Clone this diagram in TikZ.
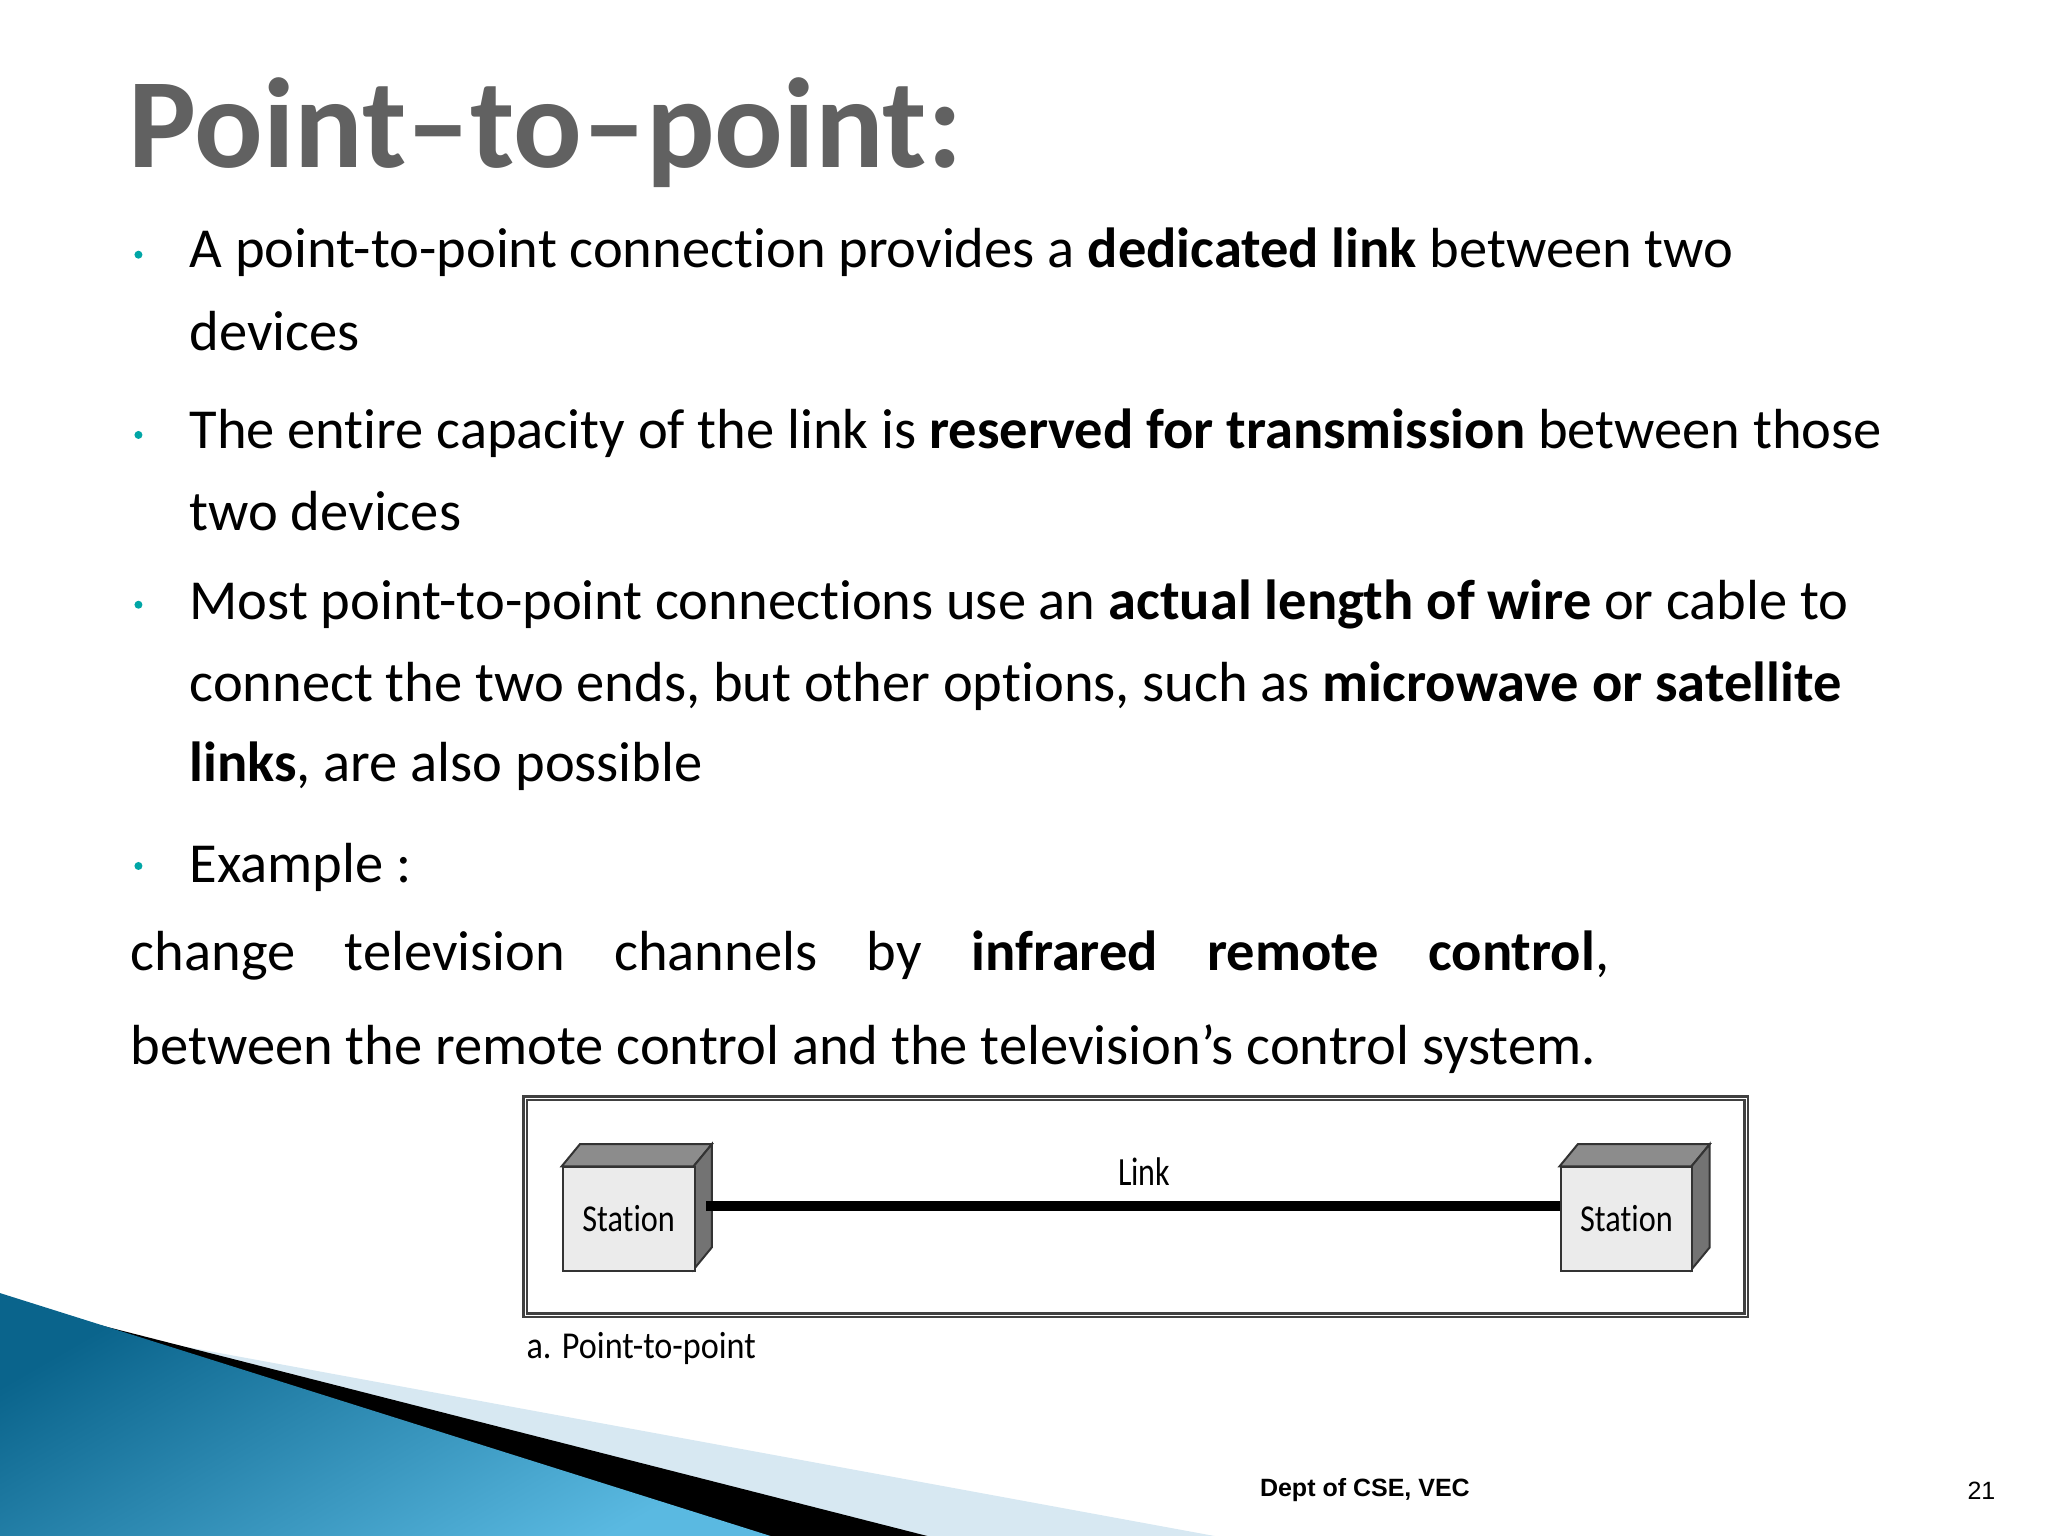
\documentclass[tikz,border=0pt]{standalone}
\usepackage{fontspec}
\setmainfont{Carlito}[Ligatures=NoCommon]
\newfontfamily\arial{Liberation Sans}
\definecolor{decteal}{RGB}{10,100,140}
\definecolor{declight}{RGB}{90,185,225}
\definecolor{decpale}{RGB}{215,232,242}
\begin{document}
\begin{tikzpicture}[x=1.306pt,y=-1.306pt,
  body/.style={anchor=base west,inner sep=0pt,font=\fontsize{56.5}{56.5}\selectfont},
  bul/.style={circle,fill=teal!70!cyan,inner sep=0pt,minimum size=8pt},
  front/.style={draw=black!80,line width=2pt,fill=black!8},
  topf/.style={draw=black!80,line width=2pt,fill=black!45},
  sidef/.style={draw=black!80,line width=2pt,fill=black!55}]
\useasboundingbox (0,0) rectangle (1568,1176);
% decoration
\fill[decpale] (0,1005) -- (930,1176) -- (0,1176) -- cycle;
\fill[black] (0,995) -- (710,1176) -- (0,1176) -- cycle;
\shade[top color=decteal, bottom color=declight, shading angle=30] (0,990) -- (590,1176) -- (0,1176) -- cycle;
% title
\node[anchor=base west,inner sep=0pt,text=black!62,font=\bfseries\fontsize{128}{128}\selectfont] (title) at (98,128) {Point–to–point:};
% bullets
\foreach \y/\n in {195/b1,333/b2,463/b3,663/b4} \node[bul] (\n) at (106,\y) {};
\node[body] (t1) at (145,205) {A point-to-point connection provides a \textbf{dedicated link} between two};
\node[body] (t1b) at (145,268) {devices};
\node[body] (t2) at (145,343) {The entire capacity of the link is \textbf{reserved for transmission} between those};
\node[body] (t2b) at (145,406) {two devices};
\node[body] (t3) at (145,474) {Most point-to-point connections use an \textbf{actual length of wire} or cable to};
\node[body] (t3b) at (145,537) {connect the two ends, but other options, such as \textbf{microwave or satellite}};
\node[body] (t3c) at (145,598) {\textbf{links}, are also possible};
\node[body] (t4) at (145,676) {Example :};
\node[body] (t5) at (100,743) {\makebox[1132\dimexpr1.306pt\relax][s]{change\hfill television\hfill channels\hfill by\hfill \textbf{infrared}\hfill \textbf{remote}\hfill \textbf{control},}};
\node[body] (t6) at (100,815) {between the remote control and the television's control system.};
% diagram
\draw[black!75,line width=2.5pt,double=white,double distance=1pt] (402,841) rectangle (1337,1007);
\foreach \x/\n in {430/s1,1194/s2}{
  \fill[topf] (\x,893) -- (\x+14,876) -- (\x+115,876) -- (\x+101,893) -- cycle;
  \fill[sidef] (\x+101,893) -- (\x+115,876) -- (\x+115,955) -- (\x+101,972) -- cycle;
  \node[front,minimum width=101*1.306pt,minimum height=79*1.306pt,anchor=north west,inner sep=0pt,
    font=\fontsize{38}{38}\selectfont] (\n) at (\x,893) {\scalebox{0.85}[1]{Station}};
}
\draw[line width=10pt] (s1.east) ++(8,-10) coordinate (l1) -- (l1 -| s2.west);
\node[font=\fontsize{40}{40}\selectfont,inner sep=0pt] (link) at (876,897) {\scalebox{0.8}[1]{Link}};
\node[anchor=base west,inner sep=0pt,font=\fontsize{38}{38}\selectfont] (cap) at (403,1040) {\scalebox{0.9}[1]{a. Point-to-point}};
% footer
\node[inner sep=0pt,font=\arial\bfseries\fontsize{25}{25}\selectfont] (dept) at (1045,1141) {Dept of CSE, VEC};
\node[inner sep=0pt,font=\arial\fontsize{25}{25}\selectfont] (pg) at (1517,1141) {21};
\end{tikzpicture}
\end{document}
